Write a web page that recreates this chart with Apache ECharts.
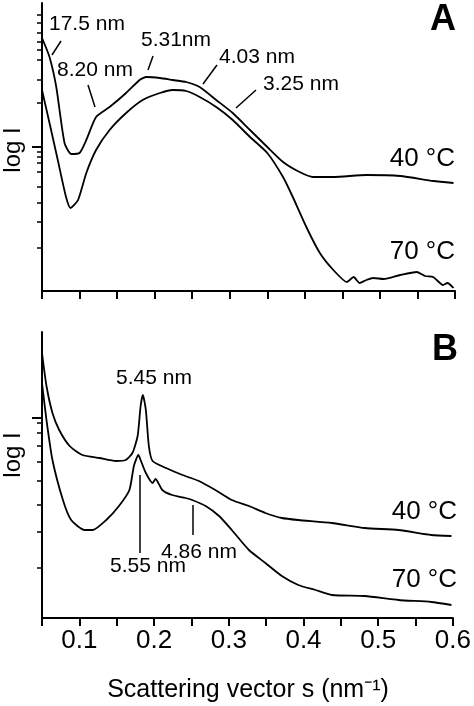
<!DOCTYPE html>
<html><head><meta charset="utf-8">
<script src="https://cdn.jsdelivr.net/npm/echarts@6/dist/echarts.min.js"></script>
<style>html,body{margin:0;padding:0;background:#fff}#c{width:474px;height:706px}</style>
</head><body><div id="c"></div>
<script>
const xTickLabels = ['0.1','0.2','0.3','0.4','0.5','0.6'];
const sA40 = [0.05,0.06,0.069,0.08,0.089,0.1,0.109,0.122,0.14,0.162,0.18,0.189,0.207,0.224,0.242,0.26,0.282,0.304,0.327,0.35,0.371,0.393,0.411,0.438,0.482,0.527,0.571,0.598];
const vA40 = [253,234,204,148,137,138,151,174,184,198,211,214,213,211,209,204,191,178,161,144,129,119,114,114,116,115,110,108];
const sA70 = [0.05,0.06,0.071,0.082,0.088,0.098,0.109,0.122,0.14,0.162,0.184,0.207,0.224,0.242,0.26,0.282,0.304,0.327,0.35,0.371,0.384,0.402,0.42,0.438,0.456,0.465,0.473,0.482,0.491,0.505,0.527,0.549,0.56,0.571,0.584,0.59,0.598];
const vA70 = [201,168,131,94,83,91,118,141,161,178,191,198,201,200,194,184,171,154,138,114,94,64,38,21,9,14,8,11,13,12,16,19,15,14,6,8,3];
const sB40 = [0.05,0.056,0.064,0.073,0.087,0.104,0.127,0.149,0.162,0.171,0.178,0.182,0.185,0.189,0.193,0.198,0.216,0.238,0.26,0.282,0.304,0.327,0.349,0.371,0.393,0.438,0.482,0.527,0.571,0.598];
const vB40 = [265,232,205,188,172,163,160,157,158,165,182,212,223,208,172,157,150,143,137,128,118,112,105,100,98,95,90,88,83,82];
const sB70 = [0.05,0.056,0.064,0.078,0.089,0.107,0.118,0.136,0.153,0.167,0.173,0.179,0.182,0.189,0.198,0.202,0.211,0.224,0.242,0.251,0.269,0.287,0.304,0.327,0.349,0.371,0.393,0.416,0.438,0.482,0.527,0.571,0.598];
const vB70 = [235,198,158,118,98,88,88,98,112,128,152,163,158,145,135,139,128,123,120,118,112,102,88,68,55,42,33,28,23,22,18,16,13];
const yMinorA = [139,134,128,119,104,88,69,43,188,211,231,241,249,258,268,276];
const yMinorB = [195,185,172,156,137,113,86,50,287];

const zip = (s,v)=>s.map((x,i)=>[x,v[i]]);
const chart = echarts.init(document.getElementById('c'));
const FONT = 'Liberation Sans, Arial, sans-serif';
const xAx = (gi, labels) => ({
  gridIndex: gi, type:'value', min:0.05, max:0.6, interval:0.05,
  axisLine:{show:true,lineStyle:{color:'#000',width:2}},
  axisTick:{show:true,length:8,inside:false,lineStyle:{color:'#000',width:2}},
  splitLine:{show:false},
  axisLabel:{show:labels,color:'#000',fontSize:26,fontFamily:FONT,margin:10,
    formatter:v=>{const r=Math.round(v*100);return (r%10===0)?(r/100).toFixed(1):'';}}
});
const yAx = (gi,max,major,minor) => [
  {gridIndex:gi,type:'value',min:0,max:max,axisLine:{show:true,lineStyle:{color:'#000',width:2}},
   axisTick:{show:true,length:10,customValues:[major],lineStyle:{color:'#000',width:2}},
   axisLabel:{show:false},splitLine:{show:false}},
  {gridIndex:gi,type:'value',min:0,max:max,position:'left',axisLine:{show:false},
   axisTick:{show:true,length:5,customValues:minor,lineStyle:{color:'#000',width:1.5}},
   axisLabel:{show:false},splitLine:{show:false}}
];
const line = (xi,yi,d)=>({type:'line',xAxisIndex:xi,yAxisIndex:yi,data:d,showSymbol:false,symbol:'none',smooth:0.2,
  lineStyle:{color:'#000',width:1.8},silent:true,animation:false});
const T = (x,y,text,size,align,extra)=>Object.assign({type:'text',x:x,y:y,style:{text:text,fill:'#000',font:size+'px '+FONT,textAlign:align||'left',textVerticalAlign:'middle'}},extra||{});
const L = (x1,y1,x2,y2)=>({type:'line',shape:{x1,y1,x2,y2},style:{stroke:'#000',lineWidth:1.5}});
chart.setOption({
  animation:false,
  grid:[{left:42,top:3,width:413,height:288},{left:42,top:332,width:413,height:286}],
  xAxis:[xAx(0,false),xAx(1,true)],
  yAxis:[...yAx(0,288,144,yMinorA),...yAx(1,286,200,yMinorB)],
  series:[line(0,0,zip(sA40,vA40)),line(0,0,zip(sA70,vA70)),line(1,2,zip(sB40,vB40)),line(1,2,zip(sB70,vB70))],
  graphic:[
    T(49,24,'17.5 nm',21), L(52,55,61,41),
    T(57,70,'8.20 nm',21), L(88,85,95,107),
    T(141,40,'5.31nm',21), L(148,70,153,56),
    T(219,57,'4.03 nm',21), L(203,84,217,65),
    T(263,84,'3.25 nm',21), L(236,108,256,90),
    T(455,159,'40 °C',26,'right'),
    T(455,252,'70 °C',26,'right'),
    {type:'text',x:456,y:20,style:{text:'A',fill:'#000',font:'bold 36px '+FONT,textAlign:'right',textVerticalAlign:'middle'}},
    {type:'text',x:458,y:350,style:{text:'B',fill:'#000',font:'bold 36px '+FONT,textAlign:'right',textVerticalAlign:'middle'}},
    T(116,378,'5.45 nm',21),
    T(110,566,'5.55 nm',21), L(140,475,140,553),
    T(161,552,'4.86 nm',21), L(193,505,193,535),
    T(457,512,'40 °C',26,'right'),
    T(457,580,'70 °C',26,'right'),
    T(248,690,'Scattering vector s (nm⁻¹)',25,'center'),
    T(13,150,'log I',24,'center',{rotation:Math.PI/2}),
    T(13,455,'log I',24,'center',{rotation:Math.PI/2})
  ]
});
</script></body></html>
